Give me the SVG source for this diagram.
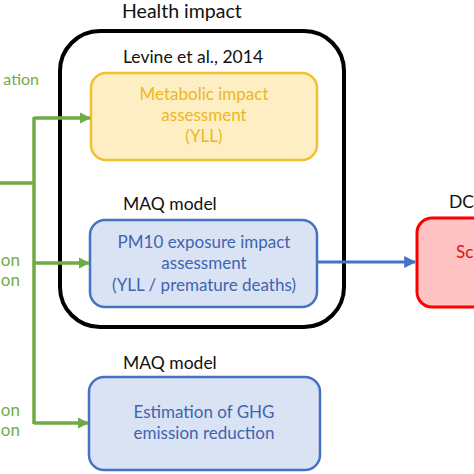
<svg xmlns="http://www.w3.org/2000/svg" width="474" height="474" viewBox="0 0 474 474">
<defs>
<style>
text{font-family:Lato,"Open Sans","Liberation Sans",sans-serif}
.lbl{font-size:17.5px;fill:#111}
.title{font-size:19.5px;fill:#111}
.yt{font-size:17px;fill:#eeb720;text-anchor:middle}
.bt{font-size:17px;fill:#3f64b0;text-anchor:middle}
.gt{font-size:17px;fill:#70ad47;text-anchor:end}
.g{stroke:#6fab45;stroke-width:3.5;fill:none}
</style>
<marker id="ag" viewBox="0 0 10 10" refX="9" refY="5" markerWidth="3.3" markerHeight="3.3" orient="auto" markerUnits="strokeWidth"><path d="M0,0L10,5L0,10z" fill="#6fab45"/></marker>
<marker id="ab" viewBox="0 0 10 10" refX="9" refY="5" markerWidth="4" markerHeight="4" orient="auto" markerUnits="strokeWidth"><path d="M0,0L10,5L0,10z" fill="#4472c4"/></marker>
</defs>
<rect width="474" height="474" fill="#fff"/>
<g id="health-impact">
<rect x="60" y="31" width="284" height="296" rx="40" fill="none" stroke="#000" stroke-width="4"/>
<text class="title" x="122" y="18">Health impact</text>
</g>
<g id="metabolic">
<text class="lbl" x="123" y="63">Levine et al., 2014</text>
<rect x="91" y="73" width="226" height="87" rx="15" fill="#fdefc3" stroke="#f4c12e" stroke-width="2.5"/>
<text class="yt" x="204" y="100">Metabolic impact</text>
<text class="yt" x="204" y="121">assessment</text>
<text class="yt" x="204" y="142">(YLL)</text>
</g>
<g id="pm10">
<text class="lbl" x="123" y="210">MAQ model</text>
<rect x="90" y="220" width="227" height="87" rx="15" fill="#dae3f3" stroke="#4472c4" stroke-width="2.5"/>
<text class="bt" x="204" y="248">PM10 exposure impact</text>
<text class="bt" x="204" y="269">assessment</text>
<text class="bt" x="204" y="291">(YLL / premature deaths)</text>
</g>
<g id="ghg">
<text class="lbl" x="123" y="369">MAQ model</text>
<rect x="89" y="377" width="231" height="93" rx="15" fill="#dae3f3" stroke="#4472c4" stroke-width="2.5"/>
<text class="bt" x="204" y="418">Estimation of GHG</text>
<text class="bt" x="204" y="439">emission reduction</text>
</g>
<g id="dc">
<text class="lbl" x="449" y="208">DC</text>
<rect x="417" y="218" width="80" height="89" rx="15" fill="#ffc3c3" stroke="#ff0000" stroke-width="3"/>
<text x="456" y="258" style="font-size:17px;fill:#e01010">Sc</text>
</g>
<g id="left-labels">
<text class="gt" x="39" y="85" style="font-size:16px">ation</text>
<text class="gt" x="20" y="266">on</text>
<text class="gt" x="20" y="286">on</text>
<text class="gt" x="20" y="416">on</text>
<text class="gt" x="20" y="436">on</text>
</g>
<g id="connectors">
<path class="g" d="M0,183H34"/>
<path class="g" d="M34,117V424"/>
<path class="g" d="M34,118H90" marker-end="url(#ag)"/>
<path class="g" d="M34,263H89" marker-end="url(#ag)"/>
<path class="g" d="M34,423H88" marker-end="url(#ag)"/>
<path d="M317,262H415" stroke="#4472c4" stroke-width="3" fill="none" marker-end="url(#ab)"/>
</g>
</svg>
